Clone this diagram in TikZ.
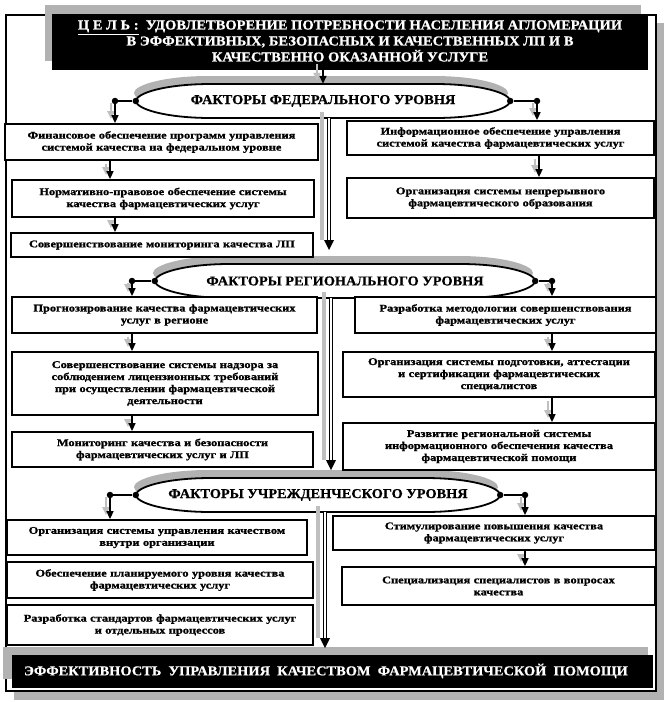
\documentclass[tikz,border=0pt]{standalone}
\usepackage{fontspec}
\setmainfont{Liberation Serif}
\newfontfamily\wfont{Liberation Serif}[FakeStretch=1.2,BoldFeatures={FakeBold=1.2}]
\newfontfamily\tfont{Liberation Serif}[FakeStretch=1.06,BoldFeatures={FakeBold=0.6}]
\usetikzlibrary{shapes.geometric,arrows.meta}
\newcommand\mypill[5]{%
  \begin{scope}[shift={(#2-2,#3-8)}]
    \fill[black!30] (-#4,0) .. controls (-#4,-8) and ({-#4+30},-17) .. ({-#4+75},-17) -- ({#4-75},-17) .. controls ({#4-30},-17) and (#4,-8) .. (#4,0) .. controls (#4,8) and ({#4-30},17) .. ({#4-75},17) -- ({-#4+75},17) .. controls ({-#4+30},17) and (-#4,8) .. (-#4,0) -- cycle;
  \end{scope}
  \begin{scope}[shift={(#2,#3)}]
    \draw[line width=1.8pt,fill=white] (-#4,0) .. controls (-#4,-8) and ({-#4+30},-17) .. ({-#4+75},-17) -- ({#4-75},-17) .. controls ({#4-30},-17) and (#4,-8) .. (#4,0) .. controls (#4,8) and ({#4-30},17) .. ({#4-75},17) -- ({-#4+75},17) .. controls ({-#4+30},17) and (-#4,8) .. (-#4,0) -- cycle;
  \end{scope}
  \node[ell,minimum width=2*#4,minimum height=34] (#1) at (#2,#3) {#5};
}
\begin{document}
\begin{tikzpicture}[x=1pt,y=-1pt,
 bx/.style={draw=black,line width=1.8pt,fill=white,inner sep=0pt,align=center,font=\wfont\bfseries\fontsize{10.3}{12}\selectfont},
 ell/.style={rectangle,draw=none,inner sep=0pt,font=\tfont\bfseries\fontsize{13.5}{14}\selectfont},
 conn/.style={line width=1.6pt},
 arr/.style={line width=1.6pt,-{Triangle[length=8pt,width=7pt]}},
 sarr/.style={line width=2.2pt,black!25,-{Triangle[length=8pt,width=7pt]}},
 dot/.style={circle,fill=black,inner sep=0pt,minimum size=6.5pt},
 dbl/.style={line width=0.9pt,double=white,double distance=2.2pt},
 dblsh/.style={line width=3.5pt,black!25},
 shade/.style={fill=black!30,draw=none}
]
\useasboundingbox (0,0) rectangle (666,702);
\fill[white] (0,0) rectangle (666,702);
% outer frame
\fill[shade] (14,23) rectangle (664,700);
\draw[line width=1.8pt,fill=white] (6,15) rectangle (656,691);
% title
\fill[shade] (45,5) rectangle (641,61);
\node[fill=black,minimum width=596,minimum height=56,inner sep=0pt] (TB) at (350,42) {};
\node[text=white,align=center,font=\tfont\bfseries\fontsize{13.7}{16}\selectfont] (T) at (350,41)
 {\underline{Ц Е Л Ь :}\ \ УДОВЛЕТВОРЕНИЕ ПОТРЕБНОСТИ НАСЕЛЕНИЯ АГЛОМЕРАЦИИ\\
  В ЭФФЕКТИВНЫХ, БЕЗОПАСНЫХ И КАЧЕСТВЕННЫХ ЛП И В\\
  КАЧЕСТВЕННО ОКАЗАННОЙ УСЛУГЕ};
% level ovals
\mypill{E1}{323}{101}{187}{ФАКТОРЫ ФЕДЕРАЛЬНОГО УРОВНЯ}
\mypill{E2}{345}{281}{190}{ФАКТОРЫ РЕГИОНАЛЬНОГО УРОВНЯ}
\mypill{E3}{318}{495}{182}{ФАКТОРЫ УЧРЕЖДЕНЧЕСКОГО УРОВНЯ}
% title arrow
\coordinate (ta) at (E1.north |- TB.south);
\draw[sarr] ([xshift=-6pt,yshift=6pt]ta) -- ([xshift=-6pt,yshift=3pt]E1.north);
\draw[arr] (ta) -- (E1.north);
% federal boxes
\node[bx,minimum width=313,minimum height=36,text width=308] (F1) at (161.5,142) {Финансовое обеспечение программ управления\\системой качества на федеральном уровне};
\node[bx,minimum width=302,minimum height=37,text width=298] (F2) at (163,198.5) {Нормативно-правовое обеспечение системы\\качества фармацевтических услуг};
\node[bx,minimum width=302,minimum height=24,text width=298] (F3) at (162,245) {Совершенствование мониторинга качества ЛП};
\node[bx,minimum width=307,minimum height=34,text width=303] (R1) at (500.5,138) {Информационное обеспечение управления\\системой качества фармацевтических услуг};
\node[bx,minimum width=307,minimum height=40,text width=303] (R2) at (500.5,198) {Организация системы непрерывного\\фармацевтического образования};
% regional boxes
\node[bx,minimum width=305,minimum height=36,text width=301] (G1) at (164.5,315) {Прогнозирование качества фармацевтических\\услуг в регионе};
\node[bx,minimum width=306,minimum height=63,text width=302] (G2) at (165,383.5) {Совершенствование системы надзора за\\соблюдением лицензионных требований\\при осуществлении фармацевтической\\деятельности};
\node[bx,minimum width=301,minimum height=35,text width=297] (G3) at (162.5,449.5) {Мониторинг качества и безопасности\\фармацевтических услуг и ЛП};
\node[bx,minimum width=301,minimum height=36,text width=297] (H1) at (505.5,315) {Разработка методологии совершенствования\\фармацевтических услуг};
\node[bx,minimum width=312,minimum height=45,text width=308] (H2) at (499,374.5) {Организация системы подготовки, аттестации\\и сертификации фармацевтических\\специалистов};
\node[bx,minimum width=312,minimum height=47,text width=308] (H3) at (499,446.5) {Развитие региональной системы\\информационного обеспечения качества\\фармацевтической помощи};
% institutional boxes
\node[bx,minimum width=300,minimum height=35,text width=296] (I1) at (157,537.5) {Организация системы управления качеством\\внутри организации};
\node[bx,minimum width=306,minimum height=36,text width=302] (I2) at (160,580) {Обеспечение планируемого уровня качества\\фармацевтических услуг};
\node[bx,minimum width=306,minimum height=40,text width=304] (I3) at (160,625) {Разработка стандартов фармацевтических услуг\\и отдельных процессов};
\node[bx,minimum width=322,minimum height=34,text width=318] (J1) at (494,533) {Стимулирование повышения качества\\фармацевтических услуг};
\node[bx,minimum width=313,minimum height=38,text width=309] (J2) at (498.5,586) {Специализация специалистов в вопросах\\качества};
% bottom
\fill[shade] (3,647) rectangle (648,679);
\node[fill=black,minimum width=641,minimum height=33,inner sep=0pt] (BB) at (332.5,671.5) {};
\node[text=white,font=\tfont\bfseries\fontsize{13.6}{14}\selectfont] (B) at (326,671) {ЭФФЕКТИВНОСТЬ\ \ УПРАВЛЕНИЯ\ \ КАЧЕСТВОМ\ \ ФАРМАЦЕВТИЧЕСКОЙ\ \ ПОМОЩИ};
% side dots and connectors
\node[dot] (a1) at (E1.west) {};
\node[dot] (a2) at (115,101) {};
\node[dot] (b1) at (E1.east) {};
\node[dot] (b2) at (537,101) {};
\node[dot] (a3) at (E2.west) {};
\node[dot] (a4) at (132,281) {};
\node[dot] (b3) at (E2.east) {};
\node[dot] (b4) at (552,281) {};
\node[dot] (a5) at (E3.west) {};
\node[dot] (a6) at (110,495) {};
\node[dot] (b5) at (E3.east) {};
\node[dot] (b6) at (525,495) {};
\draw[conn] (a1) -- (a2);
\draw[conn] (b1) -- (b2);
\draw[conn] (a3) -- (a4);
\draw[conn] (b3) -- (b4);
\draw[conn] (a5) -- (a6);
\draw[conn] (b5) -- (b6);
% small arrows with shadows
\foreach \s/\t in {a2/F1,b2/R1,a4/G1,b4/H1,a6/I1,b6/J1}{
  \draw[sarr] ([xshift=-4pt,yshift=-2pt]\s.center) -- ([xshift=-4pt,yshift=4pt]\s.center |- \t.north);
  \draw[arr] (\s.center) -- (\s.center |- \t.north);
}
\foreach \s/\t/\xx in {F1/F2/110,F2/F3/115,R1/R2/539,G1/G2/132,G2/G3/132,H1/H2/552,H2/H3/552,J1/J2/525}{
  \draw[sarr] ([xshift=-4pt,yshift=-3pt]\s.south -| \xx,0) -- ([xshift=-4pt,yshift=4pt]\t.north -| \xx,0);
  \draw[arr] (\s.south -| \xx,0) -- (\t.north -| \xx,0);
}
% central double arrows
\coordinate (c1) at (329,250);
\coordinate (c2) at (331,470);
\coordinate (c3) at (325,648);
\draw[dblsh] (322,112) -- (322,240);
\draw[dblsh] (324,292) -- (324,460);
\draw[dblsh] (318,506) -- (318,638);
\draw[dbl] ([xshift=6pt]E1.south) -- ([yshift=8pt]c1);
\draw[dbl] (331,298) -- ([yshift=8pt]c2);
\draw[dbl] ([xshift=7pt]E3.south) -- ([yshift=8pt]c3);
\foreach \c in {c1,c2,c3}{
  \fill (\c) -- ++(-5,-10) -- ++(10,0) -- cycle;
}
\end{tikzpicture}
\end{document}
